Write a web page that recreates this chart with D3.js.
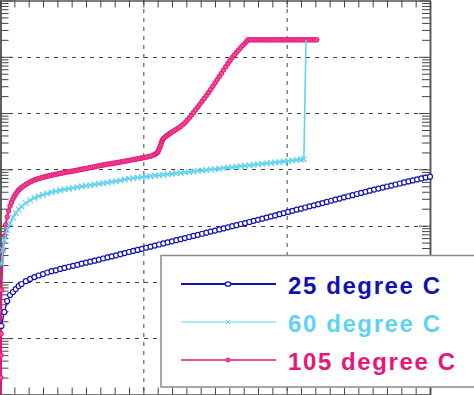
<!DOCTYPE html>
<html lang="en">
<head>
    <meta charset="UTF-8">
    <title>Temperature curves</title>
    <script src="https://d3js.org/d3.v7.min.js"></script>
    <style>
        body { margin: 0; background: #fff; }
        svg { display: block; }
    </style>
</head>
<body>
<svg id="myPlot" width="474" height="395"></svg>

<script>
    // series: [time, value]
    const data25 = [[1,16.5],[3,29.2],[5,45.8],[7,58.6],[9,66.2],[11,74.8],[13,84.7],[15,91.8],
        [18,103],[21,113],[24,122],[27,130],[30,138],[33,147],[36,155],[39,161],[42,170],[45,177],
        [48,186],[51,193],[54,201],[57,211],[60,220],[63,229],[66,239],[69,249],
        [72,261],[75,272],[78,284],[81,297],[84,311],[87,325],[90,340],[93,355],[96,371],[99,387],
        [102,405],[105,423],[108,442],[111,462],[114,483],[117,505],[120,527],[123,551],[126,575],
        [129,601],[132,628],[135,656],[138,687],[141,718],[144,750],[147,783],[150,818],[153,855],
        [156,893],[159,933],[162,977],[165,1020],[168,1070],[171,1110],[174,1160],[177,1220],
        [180,1270],[183,1330],[186,1390],[189,1460],[192,1520],[195,1600],[198,1670],[201,1750],
        [204,1830],[207,1920],[210,2000],[213,2100],[216,2200],[219,2300],[222,2410],[225,2520],
        [228,2640],[231,2770],[234,2900],[237,3030],[240,3180],[243,3330],[246,3480],[249,3650],
        [252,3820],[255,4000],[258,4180],[261,4370],[264,4560],[267,4750],[270,4960],[273,5160],
        [276,5380],[279,5610],[282,5850],[285,6100],[288,6350],[291,6620],[294,6890],[297,7150],
        [300,7400]];

    const data60 = [[1,208],[2,369],[3,556],[5,836],[7,1110],[9,1390],[11,1680],[13,1940],[15,2190],
        [18,2520],[21,2820],[24,3100],[27,3320],[30,3530],[33,3720],[36,3910],[39,4070],[42,4250],
        [45,4390],[48,4530],[51,4670],[54,4820],[57,4960],[60,5110],[63,5220],[66,5380],[69,5530],
        [72,5680],[75,5830],[78,6010],[81,6150],[84,6370],[87,6580],[90,6790],[93,6970],[96,7130],
        [99,7280],[102,7400],[105,7550],[108,7710],[111,7870],[114,8000],[117,8170],[120,8340],
        [123,8510],[126,8650],[129,8830],[132,9020],[135,9180],[138,9350],[141,9530],[144,9730],
        [147,9930],[150,10090],[153,10300],[156,10520],[159,10740],[162,10910],[165,11140],
        [168,11380],[171,11610],[174,11800],[177,12050],[180,12300],[183,12530],[186,12760],
        [189,13000],[192,13270],[195,13550],[198,13840],[201,14060],[204,14360],[207,14660],
        [210,14960],[212,15140],[213.5,2000000]];

    const data105 = [[0.5,0.8],[0.6,2],[0.7,5],[0.8,12],[0.9,30],[1,72],[2,369],[3,654],[4,1030],
        [5,1420],[6,1820],[7,2230],[8,2600],[9,2970],[10,3320],[11,3650],[12,3980],[13,4300],
        [14,4520],[15,4750],[16.5,5060],[18,5380],[19.5,5660],[21,5960],[22.5,6210],[24,6470],
        [25.5,6660],[27,6860],[28.5,7040],[30,7230],[31.5,7390],[33,7550],[34.5,7710],[36,7870],
        [37.5,8020],[39,8170],[40.5,8320],[42,8470],[43.5,8630],[45,8790],[46.5,8930],[48,9080],
        [49.5,9210],[51,9350],[52.5,9500],[54,9660],[55.5,9840],[57,10020],[58.5,10180],[60,10350],
        [61.5,10540],[63,10740],[64.5,10940],[66,11140],[67.5,11350],[69,11560],[70.5,11750],
        [72,11940],[73.5,12120],[75,12300],[76.5,12500],[78,12710],[79.5,12880],[81,13060],
        [82.5,13270],[84,13490],[85.5,13690],[87,13900],[88.5,14130],[90,14360],[91.5,14620],
        [93,14890],[94.5,15130],[96,15380],[97.5,15630],[99,15890],[100.5,16160],[102,16440],
        [103.5,16770],[105,17100],[106.5,17720],[108,18370],[109,19100],[110,19910],[110.5,21400],
        [111,22960],[111.5,24700],[112,26490],[112.5,29000],[113,31840],[113.5,33500],[114,35320],
        [115,37200],[116,39090],[117,40700],[118,42460],[119,44200],[120,46030],[121.5,48600],
        [123,51400],[124.5,54400],[126,57680],[127.5,62200],[129,67140],[130.5,74000],[132,81660],
        [133.5,91400],[135,102300],[136.5,114400],[138,127900],[139.5,143900],[141,161800],
        [142.5,182200],[144,205100],[145.5,231700],[147,261800],[148.5,299200],[150,342000],
        [151.5,390400],[153,445700],[154.5,509400],[156,582100],[157.5,664500],[159,758600],
        [160.5,858000],[162,970500],[163.5,1079000],[165,1200000],[166.5,1323000],[168,1459000],
        [169.5,1600000],[171,1754000],[172,1873000],[173,2000000],[174.5,2000000],[176,2000000],
        [177.5,2000000],[179,2000000],[180.5,2000000],[182,2000000],[183.5,2000000],[185,2000000],
        [186.5,2000000],[188,2000000],[189.5,2000000],[191,2000000],[192.5,2000000],[194,2000000],
        [195.5,2000000],[197,2000000],[198.5,2000000],[200,2000000],[201.5,2000000],[203,2000000],
        [204.5,2000000],[206,2000000],[207.5,2000000],[209,2000000],[210.5,2000000],[212,2000000],
        [213.5,2000000],[215,2000000],[216.5,2000000],[218,2000000],[219.5,2000000],[221,2000000]];

    const legendLabels = ["25 degree C", "60 degree C", "105 degree C"];
    const seriesColors = ["#1212b4", "#5ed3f3", "#e8157a"];

    const svg = d3.select("#myPlot");

    const x = d3.scaleLinear().domain([0, 300]).range([0, 430]);
    const y = d3.scaleLog().domain([1, 1e7]).range([394.5, 0.5]);

    const xTicks = x.ticks(30);
    const xMajor = xTicks.filter(d => d % 100 === 0);
    const yTicks = y.ticks();
    const isPow = d => Math.abs(Math.log10(d) - Math.round(Math.log10(d))) < 1e-9;
    const yMajor = yTicks.filter(isPow);
    const yMinor = yTicks.filter(d => !isPow(d));

    // dashed grid
    const grid = svg.append("g")
        .attr("stroke", "#444")
        .attr("stroke-width", 1)
        .attr("stroke-dasharray", "4,5");
    grid.selectAll(".gx")
        .data(xMajor.filter(d => d > 0 && d < 300)).enter()
        .append("line")
        .attr("x1", d => x(d) + 0.5).attr("x2", d => x(d) + 0.5)
        .attr("y1", 0).attr("y2", 395);
    grid.selectAll(".gy")
        .data(yMajor.filter(d => d > 1 && d < 1e7)).enter()
        .append("line")
        .attr("x1", 0).attr("x2", 430)
        .attr("y1", d => Math.round(y(d)) + 0.5).attr("y2", d => Math.round(y(d)) + 0.5);

    // axes, ticks pointing inward
    function styleAxis(g) {
        g.select(".domain").attr("stroke", "#555").attr("stroke-width", 1.5);
        g.selectAll(".tick line").attr("stroke", "#444").attr("stroke-width", 1);
    }
    const noLabel = () => "";

    svg.append("g").attr("transform", "translate(0.5,0)")
        .call(d3.axisRight(y).tickValues(yMinor).tickSize(8).tickSizeOuter(0).tickFormat(noLabel))
        .call(styleAxis);
    svg.append("g").attr("transform", "translate(0.5,0)")
        .call(d3.axisRight(y).tickValues(yMajor).tickSize(12).tickSizeOuter(0).tickFormat(noLabel))
        .call(styleAxis);
    svg.append("g").attr("transform", "translate(430,0)")
        .call(d3.axisLeft(y).tickValues(yMinor).tickSize(8).tickSizeOuter(0).tickFormat(noLabel))
        .call(styleAxis);
    svg.append("g").attr("transform", "translate(430,0)")
        .call(d3.axisLeft(y).tickValues(yMajor).tickSize(11).tickSizeOuter(0).tickFormat(noLabel))
        .call(styleAxis);
    svg.append("g").attr("transform", "translate(0,0.5)")
        .call(d3.axisBottom(x).tickValues(xTicks).tickSize(7).tickSizeOuter(0).tickFormat(noLabel))
        .call(styleAxis);
    svg.append("g").attr("transform", "translate(0,394.5)")
        .call(d3.axisTop(x).tickValues(xTicks).tickSize(7).tickSizeOuter(0).tickFormat(noLabel))
        .call(styleAxis);

    svg.append("clipPath").attr("id", "plotClip")
        .append("rect").attr("x", -5).attr("y", 0).attr("width", 445).attr("height", 394.5);

    const plot = svg.append("g").attr("clip-path", "url(#plotClip)");
    const line = d3.line().x(d => x(d[0])).y(d => y(d[1]));

    // 105 degree C
    plot.append("path").datum(data105)
        .attr("fill", "none").attr("stroke", seriesColors[2]).attr("stroke-width", 2)
        .attr("d", line);
    plot.append("g").selectAll("circle")
        .data(data105).enter()
        .append("circle")
        .attr("cx", d => x(d[0])).attr("cy", d => y(d[1]))
        .attr("r", 2.3)
        .attr("fill", "#ef4f95").attr("stroke", seriesColors[2]).attr("stroke-width", 1);

    // 60 degree C
    plot.append("path").datum(data60)
        .attr("fill", "none").attr("stroke", seriesColors[1]).attr("stroke-width", 1.6)
        .attr("d", line);
    const xm = 2.8;
    plot.append("g").selectAll("path")
        .data(data60.slice(0, -1)).enter()
        .append("path")
        .attr("transform", d => "translate(" + x(d[0]) + "," + y(d[1]) + ")")
        .attr("d", "M" + -xm + "," + -xm + "L" + xm + "," + xm + "M" + -xm + "," + xm + "L" + xm + "," + -xm)
        .attr("fill", "none").attr("stroke", seriesColors[1]).attr("stroke-width", 1.2);

    // 25 degree C
    plot.append("path").datum(data25)
        .attr("fill", "none").attr("stroke", seriesColors[0]).attr("stroke-width", 1.3)
        .attr("d", line);
    plot.append("g").selectAll("circle")
        .data(data25).enter()
        .append("circle")
        .attr("cx", d => x(d[0])).attr("cy", d => y(d[1]))
        .attr("r", 2.5)
        .attr("fill", "#fff").attr("stroke", seriesColors[0]).attr("stroke-width", 1.2);

    // legend box
    const legend = svg.append("g");
    legend.append("rect")
        .attr("x", 161).attr("y", 255.5).attr("width", 330).attr("height", 131.5)
        .attr("fill", "#fff").attr("stroke", "#8a8a8a").attr("stroke-width", 1.5);

    const rowY = [284, 322, 360];
    const rowWidth = [2, 1.2, 1.5];
    legendLabels.forEach(function (label, i) {
        legend.append("line")
            .attr("x1", 181).attr("x2", 276).attr("y1", rowY[i]).attr("y2", rowY[i])
            .attr("stroke", seriesColors[i]).attr("stroke-width", rowWidth[i]);
        if (i === 0) {
            legend.append("ellipse").attr("cx", 228).attr("cy", rowY[i]).attr("rx", 2.8).attr("ry", 2.2)
                .attr("fill", "#fff").attr("stroke", seriesColors[i]).attr("stroke-width", 1.3);
        } else if (i === 1) {
            legend.append("path")
                .attr("transform", "translate(228," + rowY[i] + ")")
                .attr("d", "M-2,-2L2,2M-2,2L2,-2")
                .attr("stroke", seriesColors[i]).attr("stroke-width", 1);
        } else {
            legend.append("circle").attr("cx", 228).attr("cy", rowY[i]).attr("r", 2)
                .attr("fill", "#ef4f95").attr("stroke", seriesColors[i]).attr("stroke-width", 1);
        }
        legend.append("text")
            .attr("x", 288).attr("y", rowY[i] + 9.5)
            .attr("fill", seriesColors[i])
            .style("font-family", "'Liberation Sans', Arial, sans-serif")
            .style("font-weight", "bold")
            .style("font-size", "24px")
            .style("letter-spacing", "1.6px")
            .text(label);
    });
</script>
</body>
</html>
